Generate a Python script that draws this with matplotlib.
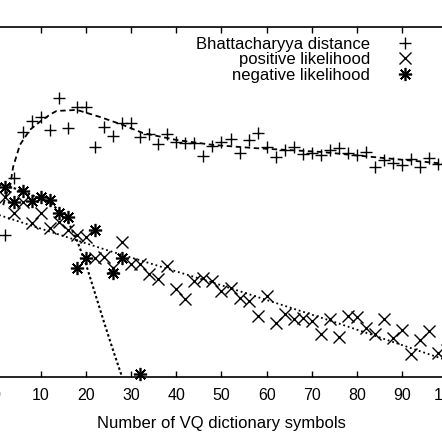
import numpy as np
import matplotlib.pyplot as plt

plt.rcParams['font.family'] = ['Liberation Sans', 'DejaVu Sans']

# x positions (even numbers of VQ symbols)
x_all = np.arange(2, 101, 2)

# Bhattacharyya distance (+)
bhat = [40.6, 56.9, 70.1, 73.2, 74.4, 70.6, 79.6, 71.1, 77.2, 77.1,
        65.8, 71.5, 68.9, 72.7, 72.7, 68.5, 69.4, 66.5, 69.4, 67.2,
        66.8, 66.8, 63.1, 66.1, 67.2, 67.9, 64.1, 67.7, 69.6, 65.8,
        62.9, 64.9, 65.8, 63.7, 63.9, 63.4, 64.9, 65.3, 63.9, 63.4,
        64.4, 59.9, 62.0, 61.2, 60.6, 62.2, 60.1, 62.7, 60.8, 61.0]

# positive likelihood (x)
pos = [51.5, 46.8, 50.1, 43.9, 46.8, 42.5, 44.4, 42.0, 40.6, 40.0,
       33.9, 34.4, 31.1, 38.7, 32.3, 32.3, 29.4, 28.0, 31.6, 25.1,
       22.3, 27.4, 28.4, 27.4, 24.6, 25.5, 22.5, 21.7, 17.4, 23.1,
       15.5, 17.9, 16.5, 16.9, 16.0, 12.2, 16.5, 11.4, 17.4, 17.1,
       13.9, 12.4, 16.5, 11.1, 13.3, 6.5, 10.5, 13.1, 6.9, 7.7]

# negative likelihood (*), only the points inside the plot
neg_x = [2, 4, 6, 8, 10, 12, 14, 16, 18, 20, 22, 26, 28, 32]
neg = [54.4, 50.1, 53.2, 50.4, 51.3, 50.6, 46.9, 45.7, 31.1, 33.9,
       42.0, 29.8, 33.9, 0.8]

# fitted curves
bhat_fit_x = [1.7, 2.5, 3.2, 3.9, 5.4, 7.6, 9.8, 12.1, 13.5, 18, 23.1,
              28.2, 32.6, 40.1, 48.1, 57.2, 72, 83.1, 97.9, 100]
bhat_fit = [49.1, 52.6, 54.3, 60.0, 66.3, 70.6, 72.9, 75.0, 76.0, 76.3, 74.3,
            72.0, 69.7, 67.7, 66.3, 65.4, 64.3, 62.9, 61.1, 60.9]

pos_fit_x = [0, 25, 50, 75, 100]
pos_fit = [46.6, 36.1, 26.2, 15.7, 4.7]

neg_fit_x = [0, 4, 8, 12, 14, 16, 18, 20, 22, 24, 26, 28]
neg_fit = [55.1, 54.0, 52.0, 49.7, 47.7, 44.6, 39.1, 32.3, 24.0, 15.7, 7.7, 0.0]

fig = plt.figure(figsize=(4.42, 4.42), dpi=100)
ax = fig.add_axes([-0.0102, 0.1471, 1.0226, 0.7919])

ax.plot(bhat_fit_x, bhat_fit, color='black', lw=1.3, dashes=(3, 2))
ax.plot(pos_fit_x, pos_fit, color='black', lw=1.3, dashes=(1, 1.6))
ax.plot(neg_fit_x, neg_fit, color='black', lw=1.5, dashes=(1.2, 1.2))

ax.plot(x_all, bhat, ls='none', marker='+', ms=8.5, mew=1.0, color='black',
        label='Bhattacharyya distance', clip_on=False)
ax.plot(x_all, pos, ls='none', marker='x', ms=8, mew=1.0, color='black',
        label='positive likelihood', clip_on=False)
ax.plot(neg_x, neg, ls='none', marker=(8, 2, 0), ms=9.5, mew=1.2, color='black',
        label='negative likelihood', clip_on=False)

ax.set_xlim(0, 100)
ax.set_ylim(0, 100)
ax.set_xticks(np.arange(0, 101, 10))
ax.set_yticks([])
ax.tick_params(axis='x', direction='in', top=True, length=4, width=1,
               pad=8, labelsize=11.5)
for s in ax.spines.values():
    s.set_linewidth(1.2)

ax.set_xlabel('Number of VQ dictionary symbols', fontsize=12, labelpad=9)

leg = ax.legend(loc='upper right', bbox_to_anchor=(422 / 442, 1 - 36.5 / 442),
                bbox_transform=fig.transFigure, frameon=False, markerfirst=False,
                numpoints=1, handletextpad=1.1, handlelength=2, borderpad=0,
                borderaxespad=0, labelspacing=0.04, fontsize=12)

fig.savefig('out.png', dpi=100)
